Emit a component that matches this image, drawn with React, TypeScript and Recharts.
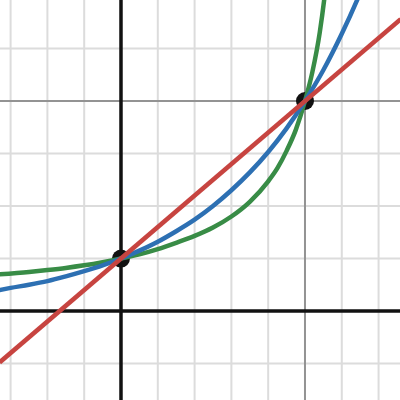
import React from 'react';
import {
  ComposedChart,
  Line,
  XAxis,
  YAxis,
  ReferenceLine,
  ReferenceDot,
} from 'recharts';

// Viewport (graph units)
const X_DOMAIN: [number, number] = [-3.288, 7.582];
const Y_DOMAIN: [number, number] = [-1.695, 5.924];

// Grid values
const minorX = [-3, -2, -1, 1, 2, 3, 4, 6, 7];
const majorX = [5];
const minorY = [-1, 1, 2, 3, 5];
const majorY = [4];

// Red: straight line read at the viewport edges
const redX = [-3.3, 7.6];
const redY = [-0.98, 5.56];

// Blue curve
const blueX = [-3.3, -3, -2.5, -2, -1.5, -1, -0.5, 0, 0.5, 1, 1.5, 2, 2.5, 3, 3.5, 4, 4.5, 5, 5.5, 6, 6.5, 7];
const blueY = [0.40, 0.44, 0.50, 0.57, 0.66, 0.76, 0.87, 1.0, 1.15, 1.32, 1.52, 1.74, 2.0, 2.3, 2.64, 3.03, 3.48, 4.0, 4.59, 5.28, 6.06, 6.96];

// Green curve
const greenX = [-3.3, -2.5, -2, -1.5, -1, -0.5, 0, 0.5, 1, 1.5, 2, 2.5, 3, 3.5, 4, 4.25, 4.5, 4.75, 5, 5.2, 5.4, 5.55, 5.7];
const greenY = [0.70, 0.745, 0.78, 0.82, 0.87, 0.93, 1.0, 1.08, 1.18, 1.30, 1.43, 1.59, 1.80, 2.08, 2.47, 2.72, 3.05, 3.45, 4.0, 4.55, 5.3, 6.1, 7.2];

// Marked points
const pointX = [0, 5];
const pointY = [1, 4];

const toRows = (xs: number[], ys: number[]) => xs.map((x, i) => ({ x, y: ys[i] }));

const red = toRows(redX, redY);
const blue = toRows(blueX, blueY);
const green = toRows(greenX, greenY);

export default function App() {
  return (
    <div style={{ position: 'fixed', left: 0, top: 0, width: 400, height: 400, background: '#fff' }}>
      <ComposedChart width={400} height={400} margin={{ top: 0, right: 0, bottom: 0, left: 0 }}>
        <XAxis
          type="number"
          dataKey="x"
          domain={X_DOMAIN}
          allowDataOverflow
          hide
        />
        <YAxis
          type="number"
          dataKey="y"
          domain={Y_DOMAIN}
          allowDataOverflow
          hide
          width={0}
        />
        {minorX.map((v) => (
          <ReferenceLine key={`mx${v}`} x={v} stroke="#dcdcdc" strokeWidth={2} zIndex={-100} />
        ))}
        {minorY.map((v) => (
          <ReferenceLine key={`my${v}`} y={v} stroke="#dcdcdc" strokeWidth={2} zIndex={-100} />
        ))}
        {majorX.map((v) => (
          <ReferenceLine key={`Mx${v}`} x={v} stroke="#939393" strokeWidth={2} zIndex={-90} />
        ))}
        {majorY.map((v) => (
          <ReferenceLine key={`My${v}`} y={v} stroke="#939393" strokeWidth={2} zIndex={-90} />
        ))}
        <ReferenceLine x={0} stroke="#111" strokeWidth={3.5} zIndex={-80} />
        <ReferenceLine y={0} stroke="#111" strokeWidth={3.5} zIndex={-80} />
        {pointX.map((v, i) => (
          <ReferenceDot key={`p${i}`} x={v} y={pointY[i]} r={9} fill="#111" stroke="none" zIndex={-70} />
        ))}
        <Line data={green} dataKey="y" type="monotone" stroke="#388c46" strokeWidth={4.5} dot={false} isAnimationActive={false} />
        <Line data={blue} dataKey="y" type="monotone" stroke="#2d70b3" strokeWidth={4.5} dot={false} isAnimationActive={false} />
        <Line data={red} dataKey="y" type="linear" stroke="#c74440" strokeWidth={4.5} dot={false} isAnimationActive={false} />
      </ComposedChart>
    </div>
  );
}
